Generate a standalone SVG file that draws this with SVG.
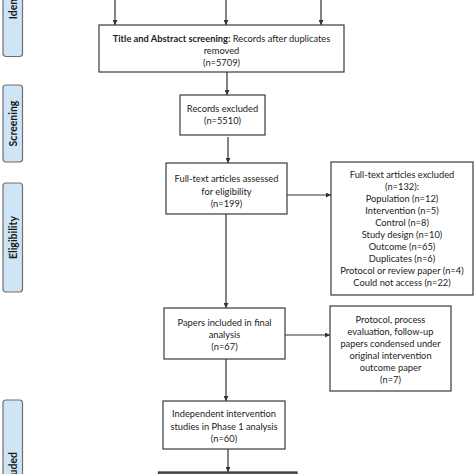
<svg xmlns="http://www.w3.org/2000/svg" width="474" height="474" viewBox="0 0 474 474">
<defs>
<marker id="ah" viewBox="0 0 10 10" refX="10" refY="5" markerWidth="5" markerHeight="5" orient="auto" markerUnits="userSpaceOnUse">
<path d="M0,0 L10,5 L0,10 z" fill="#333"/>
</marker>
<style>
.stage rect{fill:#cfe5f6;stroke:#6f6f6f;stroke-width:1.2}
.stage text{font-family:Lato,"Liberation Sans",sans-serif;font-weight:bold;font-size:10.5px;fill:#1a1a1a;text-anchor:middle}
.box rect{fill:#fff;stroke:#3a3a3a;stroke-width:1.2}
.box text{font-family:Lato,"Liberation Sans",sans-serif;font-size:9.3px;fill:#222;text-anchor:middle}
.conn line{stroke:#333;stroke-width:1.2;marker-end:url(#ah)}
</style>
</defs>
<rect width="474" height="474" fill="#fff"/>

<g id="stage-identification" class="stage">
<rect x="3" y="-80" width="19.5" height="136.5" rx="3"/>
<text transform="translate(16.5,-12) rotate(-90)">Identification</text>
</g>
<g id="stage-screening" class="stage">
<rect x="3" y="85" width="19.5" height="77" rx="3"/>
<text transform="translate(16.5,123.5) rotate(-90)">Screening</text>
</g>
<g id="stage-eligibility" class="stage">
<rect x="3" y="183" width="19.5" height="109" rx="3"/>
<text transform="translate(16.5,237.5) rotate(-90)">Eligibility</text>
</g>
<g id="stage-included" class="stage">
<rect x="3" y="400" width="19.5" height="100" rx="3"/>
<text transform="translate(16.5,472) rotate(-90)">Included</text>
</g>

<g id="connectors" class="conn">
<line x1="115" y1="0" x2="115" y2="25"/>
<line x1="226" y1="0" x2="226" y2="25"/>
<line x1="321" y1="0" x2="321" y2="25"/>
<line x1="227" y1="72" x2="227" y2="95"/>
<line x1="228" y1="137" x2="228" y2="163"/>
<line x1="287" y1="195" x2="331" y2="195"/>
<line x1="226" y1="214" x2="226" y2="308"/>
<line x1="285" y1="335" x2="330" y2="335"/>
<line x1="226" y1="359" x2="226" y2="401"/>
<line x1="228" y1="449" x2="228" y2="472"/>
</g>

<g id="title-abstract" class="box">
<rect x="99" y="25" width="245" height="47"/>
<text x="221.5" y="42"><tspan font-weight="bold">Title and Abstract screening:</tspan> Records after duplicates</text>
<text x="221.5" y="54">removed</text>
<text x="221.5" y="66">(n=5709)</text>
</g>
<g id="records-excluded" class="box">
<rect x="180" y="95" width="85" height="40"/>
<text x="222.5" y="112">Records excluded</text>
<text x="222.5" y="124">(n=5510)</text>
</g>
<g id="fulltext-assessed" class="box">
<rect x="166" y="163" width="121" height="51"/>
<text x="226.5" y="182">Full-text articles assessed</text>
<text x="226.5" y="195">for eligibility</text>
<text x="226.5" y="207">(n=199)</text>
</g>
<g id="fulltext-excluded" class="box">
<rect x="331" y="162" width="142" height="133"/>
<text x="402" y="178">Full-text articles excluded</text>
<text x="402" y="190">(n=132):</text>
<text x="402" y="202">Population (n=12)</text>
<text x="402" y="214">Intervention (n=5)</text>
<text x="402" y="226">Control (n=8)</text>
<text x="402" y="238">Study design (n=10)</text>
<text x="402" y="250">Outcome (n=65)</text>
<text x="402" y="262">Duplicates (n=6)</text>
<text x="402" y="274">Protocol or review paper (n=4)</text>
<text x="402" y="286">Could not access (n=22)</text>
</g>
<g id="papers-included" class="box">
<rect x="164" y="308" width="121" height="51"/>
<text x="224.5" y="326">Papers included in final</text>
<text x="224.5" y="338">analysis</text>
<text x="224.5" y="350">(n=67)</text>
</g>
<g id="condensed" class="box">
<rect x="330" y="306" width="121" height="85"/>
<text x="390.5" y="323">Protocol, process</text>
<text x="390.5" y="335">evaluation, follow-up</text>
<text x="390.5" y="347">papers condensed under</text>
<text x="390.5" y="359">original intervention</text>
<text x="390.5" y="371">outcome paper</text>
<text x="390.5" y="383">(n=7)</text>
</g>
<g id="independent-studies" class="box">
<rect x="163" y="401" width="122" height="48"/>
<text x="224" y="417">Independent intervention</text>
<text x="224" y="430">studies in Phase 1 analysis</text>
<text x="224" y="442">(n=60)</text>
</g>
<g id="next-box">
<rect x="158.5" y="472" width="138.5" height="10" fill="#5a5a5a" stroke="#333" stroke-width="1.2"/>
</g>
</svg>
